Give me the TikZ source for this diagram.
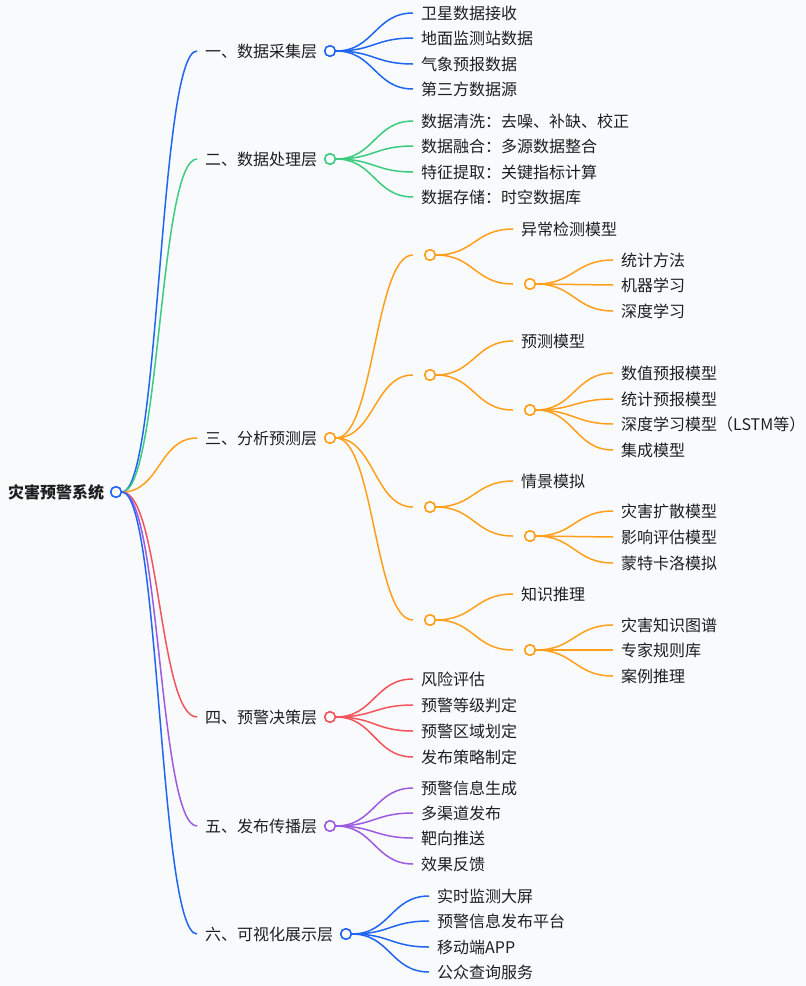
\documentclass[tikz,border=0pt]{standalone}
\usepackage{fontspec}
\setmainfont{Noto Sans CJK SC}
\definecolor{bg}{HTML}{F9FAFC}
\definecolor{txt}{HTML}{1E1E1E}
\definecolor{cblue}{HTML}{2166F3}
\definecolor{cgreen}{HTML}{3CCB7F}
\definecolor{corange}{HTML}{FF9F1C}
\definecolor{cred}{HTML}{F2545B}
\definecolor{cpurple}{HTML}{9D5CE0}
\newcommand\lnk[3]{\draw[br=#3] (#1.east) .. controls +(38,0) and +(-38,0) .. (#2.west);}
\begin{document}
\begin{tikzpicture}[x=1pt,y=-1pt,
  lbl/.style={anchor=west, inner xsep=8pt, inner ysep=0pt, text height=13.5pt, text depth=1.5pt, font=\fontsize{16}{18}\selectfont, text=txt},
  dot/.style={circle, draw=#1, fill=white, line width=1.5pt, minimum size=10.5pt, inner sep=0pt},
  br/.style={draw=#1, line width=1.5pt},
  hole/.style={inner sep=0pt, minimum size=0pt}]
\fill[bg] (0,0) rectangle (806,986);
\useasboundingbox (0,0) rectangle (806,986);
% root
\node[lbl, font=\fontsize{16}{18}\selectfont\bfseries] (root) at (0,492) {灾害预警系统};
\node[dot=cblue] (rootd) at (116,492) {};
% level 1
\node[lbl] (n1) at (197,51) {一、数据采集层};
\node[lbl] (n2) at (197,159) {二、数据处理层};
\node[lbl] (n3) at (197,438) {三、分析预测层};
\node[lbl] (n4) at (197,717) {四、预警决策层};
\node[lbl] (n5) at (197,826) {五、发布传播层};
\node[lbl] (n6) at (197,934) {六、可视化展示层};
% leaves 1
\node[lbl] (l11) at (413,13) {卫星数据接收};
\node[lbl] (l12) at (413,38) {地面监测站数据};
\node[lbl] (l13) at (413,64) {气象预报数据};
\node[lbl] (l14) at (413,89) {第三方数据源};
% leaves 2
\node[lbl] (l21) at (413,121) {数据清洗：去噪、补缺、校正};
\node[lbl] (l22) at (413,146) {数据融合：多源数据整合};
\node[lbl] (l23) at (413,172) {特征提取：关键指标计算};
\node[lbl] (l24) at (413,197) {数据存储：时空数据库};
% group 3
\node[hole] (h3a) at (413,255) {};
\node[hole] (h3b) at (413,375) {};
\node[hole] (h3c) at (413,507) {};
\node[hole] (h3d) at (413,620) {};
\node[lbl] (a1) at (513,229) {异常检测模型};
\node[hole] (ha) at (513,284) {};
\node[lbl] (a21) at (613,260) {统计方法};
\node[lbl] (a22) at (613,285) {机器学习};
\node[lbl] (a23) at (613,311) {深度学习};
\node[lbl] (b1) at (513,341) {预测模型};
\node[hole] (hb) at (513,410) {};
\node[lbl] (b21) at (613,373) {数值预报模型};
\node[lbl] (b22) at (613,399) {统计预报模型};
\node[lbl] (b23) at (613,424) {深度学习模型（LSTM等）};
\node[lbl] (b24) at (613,450) {集成模型};
\node[lbl] (c1) at (513,481) {情景模拟};
\node[hole] (hc) at (513,536) {};
\node[lbl] (c21) at (613,511) {灾害扩散模型};
\node[lbl] (c22) at (613,537) {影响评估模型};
\node[lbl] (c23) at (613,563) {蒙特卡洛模拟};
\node[lbl] (d1) at (513,594) {知识推理};
\node[hole] (hd) at (513,650) {};
\node[lbl] (d21) at (613,625) {灾害知识图谱};
\node[lbl] (d22) at (613,650) {专家规则库};
\node[lbl] (d23) at (613,676) {案例推理};
% leaves 4
\node[lbl] (l41) at (413,679) {风险评估};
\node[lbl] (l42) at (413,705) {预警等级判定};
\node[lbl] (l43) at (413,731) {预警区域划定};
\node[lbl] (l44) at (413,757) {发布策略制定};
% leaves 5
\node[lbl] (l51) at (413,788) {预警信息生成};
\node[lbl] (l52) at (413,813) {多渠道发布};
\node[lbl] (l53) at (413,838) {靶向推送};
\node[lbl] (l54) at (413,864) {效果反馈};
% leaves 6
\node[lbl] (l61) at (429,896) {实时监测大屏};
\node[lbl] (l62) at (429,921) {预警信息发布平台};
\node[lbl] (l63) at (429,947) {移动端APP};
\node[lbl] (l64) at (429,972) {公众查询服务};
% dots
\node[dot=cblue] (d1d) at (330,51) {};
\node[dot=cgreen] (d2d) at (330,159) {};
\node[dot=corange] (d3d) at (330,438) {};
\node[dot=cred] (d4d) at (330,717) {};
\node[dot=cpurple] (d5d) at (330,826) {};
\node[dot=cblue] (d6d) at (346,934) {};
\node[dot=corange] (dad) at (430,255) {};
\node[dot=corange] (dbd) at (430,375) {};
\node[dot=corange] (dcd) at (430,507) {};
\node[dot=corange] (ddd) at (430,620) {};
\node[dot=corange] (daa) at (530,284) {};
\node[dot=corange] (dbb) at (530,410) {};
\node[dot=corange] (dcc) at (530,536) {};
\node[dot=corange] (ddx) at (530,650) {};
% edges
\lnk{rootd}{n1}{cblue}
\lnk{rootd}{n2}{cgreen}
\lnk{rootd}{n3}{corange}
\lnk{rootd}{n4}{cred}
\lnk{rootd}{n5}{cpurple}
\lnk{rootd}{n6}{cblue}
\foreach \t in {l11,l12,l13,l14}{\lnk{d1d}{\t}{cblue}}
\foreach \t in {l21,l22,l23,l24}{\lnk{d2d}{\t}{cgreen}}
\foreach \t in {h3a,h3b,h3c,h3d}{\lnk{d3d}{\t}{corange}}
\lnk{dad}{a1}{corange}\lnk{dad}{ha}{corange}
\foreach \t in {a21,a22,a23}{\lnk{daa}{\t}{corange}}
\lnk{dbd}{b1}{corange}\lnk{dbd}{hb}{corange}
\foreach \t in {b21,b22,b23,b24}{\lnk{dbb}{\t}{corange}}
\lnk{dcd}{c1}{corange}\lnk{dcd}{hc}{corange}
\foreach \t in {c21,c22,c23}{\lnk{dcc}{\t}{corange}}
\lnk{ddd}{d1}{corange}\lnk{ddd}{hd}{corange}
\foreach \t in {d21,d22,d23}{\lnk{ddx}{\t}{corange}}
\foreach \t in {l41,l42,l43,l44}{\lnk{d4d}{\t}{cred}}
\foreach \t in {l51,l52,l53,l54}{\lnk{d5d}{\t}{cpurple}}
\foreach \t in {l61,l62,l63,l64}{\lnk{d6d}{\t}{cblue}}
% redraw dots on top of edges
\node[dot=cblue] at (rootd) {};
\node[dot=cblue] at (d1d) {};
\node[dot=cgreen] at (d2d) {};
\node[dot=corange] at (d3d) {};
\node[dot=cred] at (d4d) {};
\node[dot=cpurple] at (d5d) {};
\node[dot=cblue] at (d6d) {};
\foreach \n in {dad,dbd,dcd,ddd,daa,dbb,dcc,ddx}{\node[dot=corange] at (\n) {};}
\end{tikzpicture}
\end{document}
